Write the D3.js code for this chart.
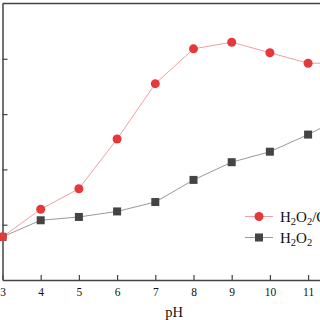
<!DOCTYPE html>
<html><head><meta charset="utf-8">
<script src="https://cdn.jsdelivr.net/npm/d3@7"></script>
<style>html,body{margin:0;padding:0;background:#fff;overflow:hidden}</style>
</head><body>
<svg id="c" width="320" height="320"></svg>
<script>
const phValues = [3,4,5,6,7,8,9,10,11,12];
const seriesCat = [0.78,1.28,1.65,2.55,3.55,4.18,4.30,4.11,3.92,3.92];
const seriesH2O2 = [0.78,1.08,1.14,1.24,1.41,1.81,2.13,2.32,2.63,2.98];
const xTicks = [3,4,5,6,7,8,9,10,11];
const yTicks = [1,2,3,4];

const svg = d3.select("#c");
const x = d3.scaleLinear().domain([3,13]).range([2.5,384.5]);
const y = d3.scaleLinear().domain([0,5]).range([280,3.5]);
const serif = "'Liberation Serif','DejaVu Serif',serif";
const axisCol = "#444";

svg.append("line").attr("x1",x(3)).attr("x2",x(13)).attr("y1",y(5)).attr("y2",y(5))
  .attr("stroke",axisCol).attr("stroke-width",1.5);

const xa = svg.append("g").attr("transform",`translate(0,${y(0)})`)
  .call(d3.axisBottom(x).tickValues(xTicks).tickSizeInner(-5).tickSizeOuter(0).tickPadding(8));
xa.select(".domain").attr("stroke",axisCol).attr("stroke-width",1.5);
xa.selectAll(".tick line").attr("stroke",axisCol).attr("stroke-width",1.2);
xa.selectAll(".tick text").attr("font-family",serif).attr("font-size",11.5).attr("fill","#111");

const ya = svg.append("g").attr("transform",`translate(${x(3)},0)`)
  .call(d3.axisLeft(y).tickValues(yTicks).tickSizeInner(-5).tickSizeOuter(0).tickFormat(""));
ya.select(".domain").attr("stroke",axisCol).attr("stroke-width",1.5);
ya.selectAll(".tick line").attr("stroke",axisCol).attr("stroke-width",1.2);

svg.append("text").attr("x",174).attr("y",317).attr("text-anchor","middle")
  .attr("font-family",serif).attr("font-size",14.5).attr("fill","#111").text("pH");

const line = d3.line().x((d,i)=>x(phValues[i])).y(d=>y(d));
const red = "#e5383b", redLine = "#f0a0a0";
const dark = "#444", darkLine = "#999";

svg.append("path").datum(seriesH2O2).attr("d",line).attr("fill","none")
  .attr("stroke",darkLine).attr("stroke-width",1);
svg.append("path").datum(seriesCat).attr("d",line).attr("fill","none")
  .attr("stroke",redLine).attr("stroke-width",1);

svg.selectAll("rect.sq").data(seriesH2O2).enter().append("rect").attr("class","sq")
  .attr("x",(d,i)=>x(phValues[i])-4).attr("y",d=>y(d)-4).attr("width",8).attr("height",8)
  .attr("fill",dark);
svg.selectAll("circle.pt").data(seriesCat).enter().append("circle").attr("class","pt")
  .attr("cx",(d,i)=>x(phValues[i])).attr("cy",d=>y(d)).attr("r",4.5).attr("fill",red);

function legendLabel(g, parts){
  const t = g.append("text").attr("font-family",serif).attr("font-size",15).attr("fill","#111");
  parts.forEach(p=>{
    const ts = t.append("tspan").text(p[0]);
    if(p[1]){ ts.attr("font-size",10.5).attr("dy",3); }
    else { ts.attr("dy", p[2]||0); }
  });
  return t;
}
const lg1 = svg.append("g").attr("transform","translate(245,216.5)");
lg1.append("line").attr("x1",0).attr("x2",28).attr("stroke",redLine).attr("stroke-width",1);
lg1.append("circle").attr("cx",14).attr("r",4.5).attr("fill",red);
legendLabel(lg1.append("g").attr("transform","translate(35,5)"),
  [["H",false],["2",true],["O",false,-3],["2",true],["/C",false,-3]]);

const lg2 = svg.append("g").attr("transform","translate(245,237.5)");
lg2.append("line").attr("x1",0).attr("x2",28).attr("stroke",darkLine).attr("stroke-width",1);
lg2.append("rect").attr("x",10).attr("y",-4).attr("width",8).attr("height",8).attr("fill",dark);
legendLabel(lg2.append("g").attr("transform","translate(35,5)"),
  [["H",false],["2",true],["O",false,-3],["2",true]]);
</script>
</body></html>
